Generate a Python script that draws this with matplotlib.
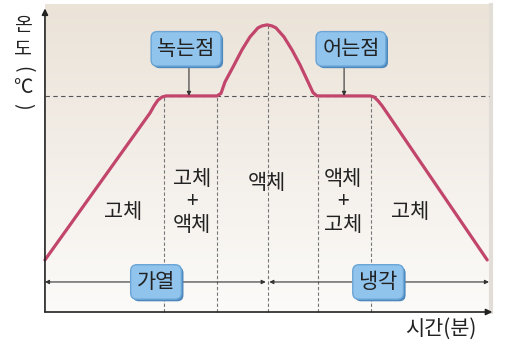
import numpy as np
import matplotlib
matplotlib.use('Agg')
import matplotlib.pyplot as plt
import matplotlib.patheffects as pe
from matplotlib.colors import LinearSegmentedColormap

plt.rcParams['font.family'] = ['Noto Sans CJK KR', 'DejaVu Sans']

# 가열/냉각 곡선 (시간: 분, 온도: 임의 단위)
time = [0, 4.72, 4.90, 5.08, 5.26, 5.44, 7.73, 7.91, 8.09, 8.45, 8.85, 9.21, 9.57,
        9.75, 9.98, 10.2, 10.38, 10.74, 11.10, 11.46, 11.82, 12.04, 12.22,
        14.61, 14.79, 14.97, 15.15, 15.37, 19.87]
temp = [24.1, 92.1, 95.4, 98.1, 99.5, 100, 100, 101.2, 106.5, 113.4, 121.3, 127.3, 131.5,
        132.4, 132.9, 132.4, 131.5, 127.3, 121.3, 114.4, 106.5, 101.6, 100,
        100, 99.5, 97.7, 95.4, 92.1, 24.1]

boundaries = [5.35, 7.73, 10.0, 12.27, 14.65]
boundary_tops = [100, 100, 132.9, 100, 100]
plateau = 100
t_end = 19.95

phase_labels = ['고체', '고체\n+\n액체', '액체', '액체\n+\n고체', '고체']
phase_x = [3.51, 6.61, 9.98, 13.39, 16.4]
phase_y = [46.3, 50.9, 59.7, 50.9, 46.3]

point_labels = ['녹는점', '어는점']
point_x = [6.34, 13.75]
point_arrow_x = [6.47, 13.44]
point_y = 121.8

process_labels = ['가열', '냉각']
process_x = [4.99, 14.97]
process_y = 13.9

# 세로 축 제목 (세로쓰기)
ylabel_chars = ['온', '도', '(', '℃', ')']
ylabel_y = [132.4, 121.8, 112.3, 103.7, 95.2]
ylabel_rot = [0, 0, -90, 0, -90]

fig = plt.figure(figsize=(5.05, 3.55), dpi=100)
ax = fig.add_axes([0, 0, 1, 1])

# 배경 그라데이션
cmap = LinearSegmentedColormap.from_list('bg', ['#fcfbf9', '#f3eee8', '#ebe3d8'])
grad = np.linspace(0, 1, 256).reshape(-1, 1)
ax.imshow(grad, extent=(0, t_end, 0, 142.1), origin='lower', aspect='auto',
          cmap=cmap, zorder=0)
ax.plot([t_end + 0.07, t_end + 0.07], [0, 142.1], color='#e2ddd6', lw=3, zorder=0.5)

ax.set_xlim(-2.02, 20.67)
ax.set_ylim(-19.9, 144.4)
ax.axis('off')

# 점선
ax.hlines(plateau, 0, t_end, color='#555555', lw=0.8, linestyles=(0, (4, 3)), zorder=1)
for b, top in zip(boundaries, boundary_tops):
    ax.vlines(b, 0, top, color='#777777', lw=0.8, linestyles=(0, (3, 2)), zorder=1)

# 곡선
ax.plot(time, temp, color='#c2456c', lw=2.3, solid_joinstyle='round',
        solid_capstyle='round', zorder=3)

# 축
arrow_kw = dict(arrowstyle='-|>', color='#222222', lw=1.2, mutation_scale=9,
                shrinkA=0, shrinkB=0)
ax.annotate('', xy=(0, 140.5), xytext=(0, 0), arrowprops=arrow_kw, zorder=4)
ax.annotate('', xy=(20.1, 0), xytext=(0, 0), arrowprops=arrow_kw, zorder=4)

# 가열/냉각 화살표
dbl = dict(arrowstyle='<|-|>', color='#333333', lw=0.8, mutation_scale=6,
           shrinkA=0, shrinkB=0)
ax.annotate('', xy=(0, process_y), xytext=(9.92, process_y), arrowprops=dbl)
ax.annotate('', xy=(10.08, process_y), xytext=(t_end, process_y), arrowprops=dbl)

box = dict(boxstyle='round,pad=0.3,rounding_size=0.3', fc='#90c4ec', ec='#6aa5d6', lw=1)
shadow = [pe.withSimplePatchShadow(offset=(1.5, -1.5), shadow_rgbFace='#4c88bd', alpha=1)]
txt_kw = dict(ha='center', va='center', fontsize=15, color='#222222', fontweight='light')

for lab, x in zip(process_labels, process_x):
    t = ax.text(x, process_y, lab, bbox=box, zorder=5, **txt_kw)
    t.get_bbox_patch().set_path_effects(shadow)

for lab, x, ax_x in zip(point_labels, point_x, point_arrow_x):
    t = ax.text(x, point_y, lab, bbox=box, zorder=5, **txt_kw)
    t.get_bbox_patch().set_path_effects(shadow)
    ax.annotate('', xy=(ax_x, plateau), xytext=(ax_x, 114.0),
                arrowprops=dict(arrowstyle='-|>', color='#333333', lw=0.8,
                                mutation_scale=6, shrinkA=0, shrinkB=0))

for lab, x, y in zip(phase_labels, phase_x, phase_y):
    ax.text(x, y, lab, linespacing=1.05, zorder=5, **txt_kw)

# 축 제목
ax.text(17.8, -7.9, '시간(분)', **txt_kw)
for ch, y, rot in zip(ylabel_chars, ylabel_y, ylabel_rot):
    ax.text(-0.99, y, ch, ha='center', va='center', rotation=rot, fontsize=14,
            color='#222222', fontweight='light')

fig.savefig('out.png', dpi=100)
